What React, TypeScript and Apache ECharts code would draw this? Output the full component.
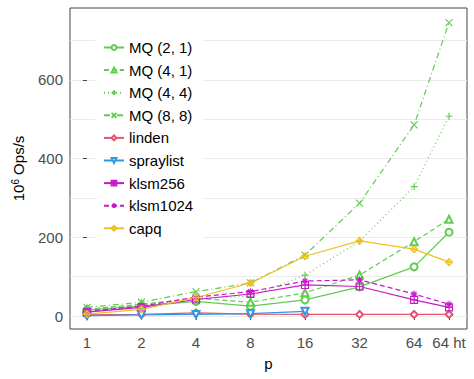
import React, { useEffect, useRef } from "react";
import * as echarts from "echarts";

const pLabels = ["1", "2", "4", "8", "16", "32", "64", "64 ht"];
const xPos = [0, 1, 2, 3, 4, 5, 6, 6.64];

const mq21 = [15, 25, 37, 25, 41, 74, 125, 213];
const mq41 = [17, 30, 45, 35, 59, 104, 189, 246];
const mq44 = [18, 28, 45, 50, 104, 190, 329, 508];
const mq88 = [22, 35, 62, 84, 155, 287, 486, 746];
const linden = [3, 4, 8, 5, 4, 4, 4, 4];
const spraylist = [1, 3, 4, 6, 12];
const klsm256 = [10, 22, 42, 56, 79, 75, 41, 22];
const klsm1024 = [12, 25, 48, 62, 89, 92, 56, 30];
const capq = [5, 17, 47, 84, 152, 191, 170, 137];

const yTicks = [0, 200, 400, 600];
const yGrid = [0, 100, 200, 300, 400, 500, 600, 700];

const GREEN = "#62cb52";
const RED = "#e5546c";
const BLUE = "#2f98e3";
const MAG = "#c918c9";
const GOLD = "#f0c020";

const PLUS = "path://M5,0L5,10M0,5L10,5";
const CROSS = "path://M0,0L10,10M10,0L0,10";
const ASTER = "path://M5,0L5,10M0,5L10,5M1.5,1.5L8.5,8.5M8.5,1.5L1.5,8.5";
const SQCROSS = "path://M0,0L10,0L10,10L0,10ZM5,0L5,10M0,5L10,5";
const DIAPLUS = "path://M5,0L10,5L5,10L0,5ZM5,0L5,10M0,5L10,5";

const FONT = "'Liberation Sans', Arial, sans-serif";

function mk(name: string, vals: number[], color: string, symbol: string, lineType: any, opts: any = {}) {
  const isPath = symbol.indexOf("path://") === 0;
  return {
    name,
    type: "line",
    data: vals.map((v, i) => [xPos[i], v]),
    symbol,
    symbolSize: 7,
    symbolRotate: opts.rotate || 0,
    color,
    lineStyle: { color, width: 1.2, type: lineType },
    itemStyle: isPath
      ? { color: "rgba(0,0,0,0)", borderColor: color, borderWidth: 1.1 }
      : { color, borderWidth: 1.1 },
    z: 2,
  };
}

export default function App() {
  const ref = useRef<HTMLDivElement>(null);
  useEffect(() => {
    const chart = echarts.init(ref.current!, undefined, { renderer: "svg" });
    const series: any[] = [
      {
        name: "grid",
        type: "line",
        data: [],
        silent: true,
        z: 0,
        markLine: {
          silent: true,
          symbol: "none",
          z: 0,
          label: { show: false },
          lineStyle: { color: "#ebebeb", width: 1, type: "solid" },
          data: yGrid.map((v) => ({ yAxis: v })),
        },
      },
      mk("MQ (2, 1)", mq21, GREEN, "emptyCircle", "solid"),
      mk("MQ (4, 1)", mq41, GREEN, "emptyTriangle", [5, 3]),
      mk("MQ (4, 4)", mq44, GREEN, PLUS, [1, 3]),
      mk("MQ (8, 8)", mq88, GREEN, CROSS, [6, 3, 1, 3]),
      mk("linden", linden, RED, "emptyDiamond", "solid"),
      mk("spraylist", spraylist, BLUE, "emptyTriangle", "solid", { rotate: 180 }),
      mk("klsm256", klsm256, MAG, SQCROSS, "solid"),
      mk("klsm1024", klsm1024, MAG, ASTER, [5, 3]),
      mk("capq", capq, GOLD, DIAPLUS, "solid"),
    ];
    chart.setOption({
      animation: false,
      backgroundColor: "#fff",
      textStyle: { fontFamily: FONT },
      grid: {
        left: 70,
        right: 7,
        top: 8,
        bottom: 50,
        show: true,
        borderColor: "#444",
        borderWidth: 1,
        backgroundColor: "transparent",
      },
      xAxis: {
        type: "value",
        min: -0.31,
        max: 6.97,
        axisLine: { show: false },
        splitLine: { show: false },
        axisTick: { show: true, length: 4, lineStyle: { color: "#444" }, customValues: xPos },
        axisLabel: {
          customValues: xPos,
          color: "#4d4d4d",
          fontSize: 15,
          fontFamily: FONT,
          margin: 6,
          formatter: (v: number) => {
            const i = xPos.findIndex((x) => Math.abs(x - v) < 1e-6);
            return i >= 0 ? pLabels[i] : "";
          },
        },
        name: "p",
        nameLocation: "middle",
        nameGap: 27,
        nameTextStyle: { color: "#000", fontSize: 15, fontFamily: FONT },
      },
      yAxis: {
        type: "value",
        min: -33,
        max: 783,
        axisLine: { show: false },
        splitLine: { show: false },
        axisTick: { show: true, length: 4, lineStyle: { color: "#444" }, customValues: yTicks },
        axisLabel: {
          customValues: yTicks,
          color: "#4d4d4d",
          fontSize: 15,
          fontFamily: FONT,
          margin: 7,
        },
        name: "10{sup|6} Ops/s",
        nameLocation: "middle",
        nameGap: 44,
        nameRotate: 90,
        nameTextStyle: {
          color: "#000",
          fontSize: 15,
          fontFamily: FONT,
          rich: { sup: { fontSize: 10, verticalAlign: "top", padding: [0, 0, 6, 0], fontFamily: FONT, color: "#000" } },
        },
      },
      legend: {
        data: series.slice(1).map((s) => s.name),
        orient: "vertical",
        left: 95,
        top: 36,
        z: 100,
        backgroundColor: "#fff",
        padding: [4, 10, 4, 8],
        itemWidth: 20,
        itemHeight: 6,
        itemGap: 7.6,
        textStyle: { color: "#000", fontSize: 15, fontFamily: FONT, lineHeight: 15 },
      },
      series,
    });
    return () => chart.dispose();
  }, []);
  return <div ref={ref} style={{ width: 474, height: 379, position: "absolute", left: 0, top: 0 }} />;
}
